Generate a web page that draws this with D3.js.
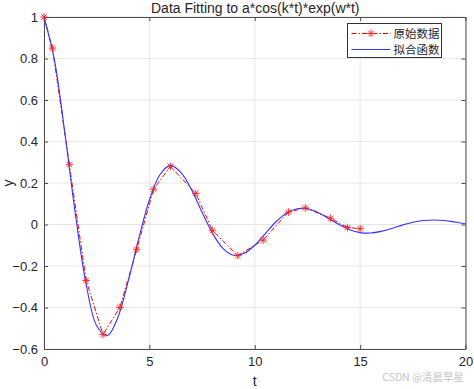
<!DOCTYPE html>
<html>
<head>
<meta charset="utf-8">
<script src="https://cdn.jsdelivr.net/npm/d3@7"></script>
<style>
  body { margin: 0; background: #fff; }
  svg text { font-family: "Liberation Sans", Arial, sans-serif; fill: #262626; }
</style>
</head>
<body>
<div id="chart"></div>
<script>
// raw data points (red asterisks)
const tData = [0, 0.4, 1.2, 2, 2.8, 3.6, 4.4, 5.2, 6, 7.2, 8, 9.2, 10.4, 11.6, 12.4, 13.6, 14.4, 15];
const yData = [1, 0.85, 0.29, -0.27, -0.53, -0.40, -0.12, 0.17, 0.28, 0.15, -0.03, -0.15, -0.075, 0.06, 0.08, 0.03, -0.015, -0.02];

// fitted curve, every 0.5
const tFit = [0, 0.5, 1, 1.5, 2, 2.5, 3, 3.5, 4, 4.5, 5, 5.5, 6, 6.5, 7, 7.5, 8, 8.5, 9, 9.5, 10,
  10.5, 11, 11.5, 12, 12.5, 13, 13.5, 14, 14.5, 15, 15.5, 16, 16.5, 17, 17.5, 18, 18.5, 19, 19.5, 20];
const yFit = [1, 0.79, 0.433, 0.041, -0.288, -0.488, -0.536, -0.449, -0.272, -0.066, 0.118, 0.240, 0.285, 0.250, 0.168, 0.059, -0.043,
  -0.116, -0.148, -0.139, -0.100, -0.044, 0.012, 0.054, 0.076, 0.076, 0.058, 0.030, 0.000, -0.025, -0.039, -0.041, -0.033,
  -0.019, -0.003, 0.011, 0.019, 0.022, 0.019, 0.012, 0.004];

const xTicks = [0, 5, 10, 15, 20];
const yTicks = [-0.6, -0.4, -0.2, 0, 0.2, 0.4, 0.6, 0.8, 1];
const legendLabels = ["原始数据", "拟合函数"];

const W = 474, H = 389;
const margin = { top: 17, right: 8.5, bottom: 40, left: 44 };
const width = W - margin.left - margin.right,
  height = H - margin.top - margin.bottom;

const svg = d3.select("#chart").append("svg")
  .attr("width", W).attr("height", H);

const g = svg.append("g")
  .attr("transform", `translate(${margin.left},${margin.top})`);

const x = d3.scaleLinear().domain([0, 20]).range([0, width]);
const y = d3.scaleLinear().domain([-0.6, 1]).range([height, 0]);

// grid
g.append("g").selectAll("line").data(xTicks).enter().append("line")
  .attr("x1", d => x(d)).attr("x2", d => x(d))
  .attr("y1", 0).attr("y2", height)
  .attr("stroke", "#e6e6e6");
g.append("g").selectAll("line").data(yTicks).enter().append("line")
  .attr("y1", d => y(d)).attr("y2", d => y(d))
  .attr("x1", 0).attr("x2", width)
  .attr("stroke", "#e6e6e6");

// axes (box with inward ticks)
const fmt = d => d3.format("~g")(d);
const styleAxis = sel => {
  sel.selectAll("path").attr("stroke", "#4d4d4d");
  sel.selectAll("line").attr("stroke", "#4d4d4d");
  sel.selectAll("text").style("font-size", "13px").attr("fill", "#262626");
};
g.append("g").attr("transform", `translate(0,${height})`)
  .call(d3.axisBottom(x).tickValues(xTicks).tickFormat(fmt).tickSize(-4).tickSizeOuter(0).tickPadding(8))
  .call(styleAxis);
g.append("g")
  .call(d3.axisLeft(y).tickValues(yTicks).tickFormat(fmt).tickSize(-4).tickSizeOuter(0).tickPadding(6))
  .call(styleAxis);
g.append("g")
  .call(d3.axisTop(x).tickValues(xTicks).tickFormat("").tickSize(-4).tickSizeOuter(0))
  .call(styleAxis);
g.append("g").attr("transform", `translate(${width},0)`)
  .call(d3.axisRight(y).tickValues(yTicks).tickFormat("").tickSize(-4).tickSizeOuter(0))
  .call(styleAxis);

// data line (dash-dot red)
const rawLine = d3.line().x((d, i) => x(tData[i])).y(d => y(d));
g.append("path").datum(yData)
  .attr("d", rawLine)
  .attr("fill", "none")
  .attr("stroke", "#ff0000")
  .attr("stroke-width", 1)
  .attr("stroke-dasharray", "5,2,1.5,2");

// fitted curve
const fitLine = d3.line().x((d, i) => x(tFit[i])).y(d => y(d)).curve(d3.curveCatmullRom);
g.append("path").datum(yFit)
  .attr("d", fitLine)
  .attr("fill", "none")
  .attr("stroke", "#3333ff")
  .attr("stroke-width", 1.1);

// asterisk markers
function asterisk(sel, r) {
  sel.append("line").attr("x1", -r).attr("x2", r).attr("y1", 0).attr("y2", 0);
  sel.append("line").attr("x1", 0).attr("x2", 0).attr("y1", -r).attr("y2", r);
  const k = r * 0.72;
  sel.append("line").attr("x1", -k).attr("x2", k).attr("y1", -k).attr("y2", k);
  sel.append("line").attr("x1", -k).attr("x2", k).attr("y1", k).attr("y2", -k);
  sel.attr("stroke", "#ff2020").attr("stroke-width", 0.9);
}
g.selectAll(".mark").data(yData).enter().append("g")
  .attr("class", "mark")
  .attr("transform", (d, i) => `translate(${x(tData[i])},${y(d)})`)
  .each(function () { asterisk(d3.select(this), 3.8); });

// title and axis labels
svg.append("text")
  .attr("x", margin.left + width / 2 + 0.5).attr("y", 13)
  .attr("text-anchor", "middle")
  .style("font-size", "14px")
  .text("Data Fitting to a*cos(k*t)*exp(w*t)");
svg.append("text")
  .attr("x", margin.left + width / 2).attr("y", 386)
  .attr("text-anchor", "middle")
  .style("font-size", "14px")
  .text("t");
svg.append("text")
  .attr("transform", `translate(13,${margin.top + height / 2}) rotate(-90)`)
  .attr("text-anchor", "middle")
  .style("font-size", "14px")
  .text("y");

// legend
const lg = svg.append("g").attr("transform", "translate(347.5,23.5)");
lg.append("rect").attr("width", 94).attr("height", 34)
  .attr("fill", "#fff").attr("stroke", "#333").attr("stroke-width", 1);
lg.append("line").attr("x1", 4).attr("x2", 43).attr("y1", 10).attr("y2", 10)
  .attr("stroke", "#ff0000").attr("stroke-dasharray", "5,2,1.5,2");
lg.append("g").attr("transform", "translate(23.5,10)")
  .call(s => asterisk(s, 3.8));
lg.append("line").attr("x1", 4).attr("x2", 43).attr("y1", 26).attr("y2", 26)
  .attr("stroke", "#3333ff").attr("stroke-width", 1.1);
lg.selectAll(".lt").data(legendLabels).enter().append("text")
  .attr("class", "lt")
  .attr("x", 46).attr("y", (d, i) => 14.5 + i * 16)
  .style("font-family", "'Noto Sans CJK SC', sans-serif")
  .style("font-size", "11.5px")
  .text(d => d);

// watermark
svg.append("text")
  .attr("x", 464).attr("y", 381)
  .attr("text-anchor", "end")
  .style("font-family", "'Noto Sans CJK SC', sans-serif")
  .style("font-size", "10.5px")
  .style("fill", "#c4c4c4")
  .text("CSDN @清晨早星");
</script>
</body>
</html>
